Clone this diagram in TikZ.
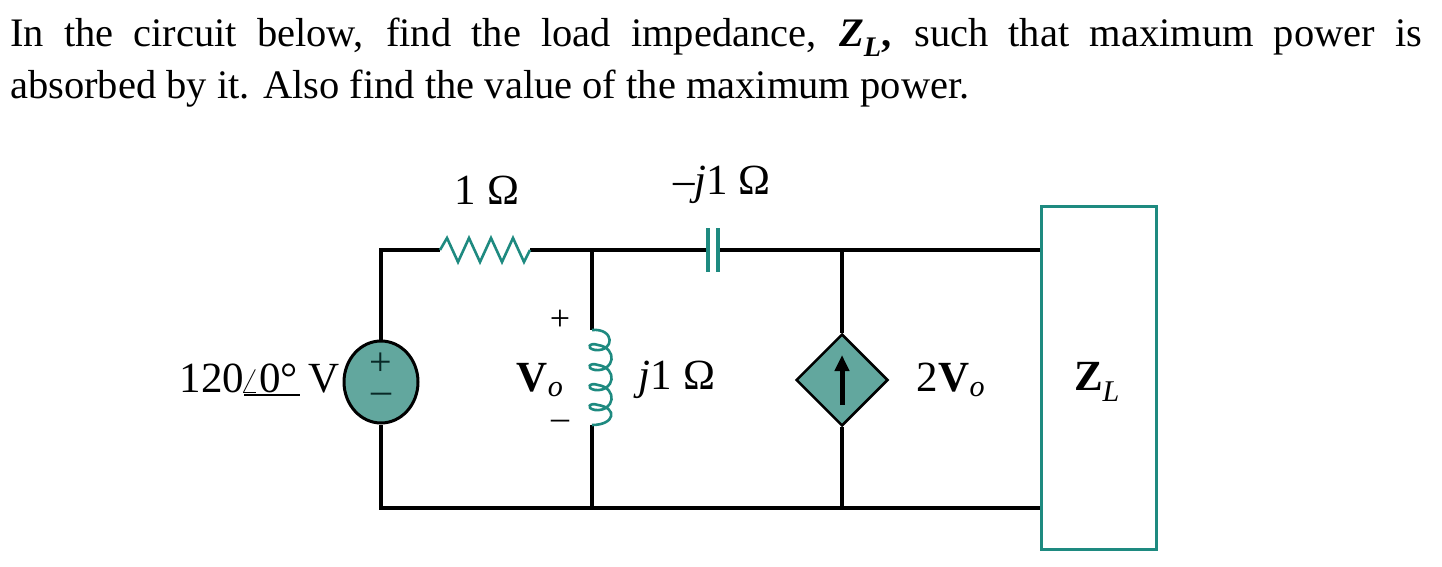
\documentclass[tikz,border=0pt]{standalone}
\usepackage{fontspec}
\setmainfont{Liberation Serif}
\usetikzlibrary{shapes.geometric,decorations.pathmorphing,arrows.meta}
\definecolor{teal1}{HTML}{1E8A80}
\definecolor{tealfill}{HTML}{62A79E}
\tikzset{wire/.style={line width=3.2pt,black},
 comp/.style={line width=2.6pt,teal1},
 lbl/.style={font=\fontsize{43}{43}\selectfont,inner sep=0pt}}
\begin{document}
\begin{tikzpicture}[x=1pt,y=-1pt]
\useasboundingbox (0,0) rectangle (1442,567);
\node[anchor=north west,text width=1412pt,align=justify,inner sep=0pt,font=\fontsize{40.5}{52}\selectfont] (txt) at (10,18)
{In the circuit below, find the load impedance, \textbf{\textit{Z\textsubscript{L}},} such that maximum power is\linebreak absorbed by it. Also find the value of the maximum power.};
% coordinates
\coordinate (tl) at (381,250); \coordinate (bl) at (381,508);
\coordinate (rA) at (440,250); \coordinate (rB) at (530,250);
\coordinate (n1) at (592,250); \coordinate (n1b) at (592,508);
\coordinate (iA) at (592,330); \coordinate (iB) at (592,425);
\coordinate (cA) at (708,250); \coordinate (cB) at (718,250);
\coordinate (n2) at (842,250); \coordinate (n2b) at (842,508);
\coordinate (zt) at (1040,250); \coordinate (zb) at (1040,508);
\node[ellipse,draw,line width=3pt,fill=tealfill,minimum width=74pt,minimum height=82pt,inner sep=0pt] (vs) at (381,382) {};
\node[diamond,draw,line width=2.5pt,fill=tealfill,minimum width=92pt,minimum height=92pt,inner sep=0pt] (cs) at (842,380) {};
\draw[-{Triangle[length=16pt,width=14pt]},line width=5pt] (842,405) -- (842,355);
\node[draw=teal1,line width=3pt,minimum width=115pt,minimum height=343pt,anchor=north west,inner sep=0pt] (zl) at (1040,205) {};
% wires
\draw[wire] (vs.north) -- (tl) -- (rA);
\draw[wire] (vs.south) -- (bl) -- (zb);
\draw[wire] (rB) -- (cA);
\draw[wire] (cB) -- (zt);
\draw[wire] (n1) -- (iA); \draw[wire] (iB) -- (n1b);
\draw[wire] (n2) -- (cs.north); \draw[wire] (cs.south) -- (n2b);
% resistor
\draw[comp,line join=miter] (rA) -- (447,238) -- (458,262) -- (469,238) -- (480,262) -- (491,238) -- (502,262) -- (513,238) -- (524,262) -- (rB);
% capacitor
\draw[comp,line width=4pt] (708,228) -- (708,272) (718,228) -- (718,272);
% inductor
\draw[comp] (iA) .. controls (615,328) and (615,352) .. (595,350)
 .. controls (585,348) and (590,342) .. (598,345)
 .. controls (618,348) and (615,372) .. (595,370)
 .. controls (585,368) and (590,362) .. (598,365)
 .. controls (618,368) and (615,392) .. (595,390)
 .. controls (585,388) and (590,382) .. (598,385)
 .. controls (618,388) and (615,412) .. (595,410)
 .. controls (585,408) and (590,402) .. (598,405)
 .. controls (618,408) and (615,425) .. (iB);
% labels
\node[font=\fontsize{40}{40}\selectfont,text=teal1!30!black] (vp) at (381,364) {+};
\node[font=\fontsize{40}{40}\selectfont,text=teal1!30!black] (vm) at (381,398) {–};
\node[lbl,anchor=east] (vl) at (340,380) {120\rlap{\raisebox{-3pt}{\rule{56pt}{1.5pt}}}$\!\angle$0° V};
\node[lbl] (l1) at (487,190) {1 Ω};
\node[lbl] (l2) at (722,185) {–\textit{j}1 Ω};
\node[lbl] (l3) at (677,380) {\textit{j}1 Ω};
\node[lbl] (l4) at (951,380) {2\textbf{V}\textsubscript{\textit{o}}};
\node[lbl] (l5) at (540,380) {\textbf{V}\textsubscript{\textit{o}}};
\node[font=\fontsize{36}{36}\selectfont] (pp) at (560,320) {+};
\node[font=\fontsize{36}{36}\selectfont] (mm) at (560,425) {–};
\node[lbl] (zlab) at (1097,382) {\textbf{Z}\textsubscript{\textit{L}}};
\end{tikzpicture}
\end{document}
